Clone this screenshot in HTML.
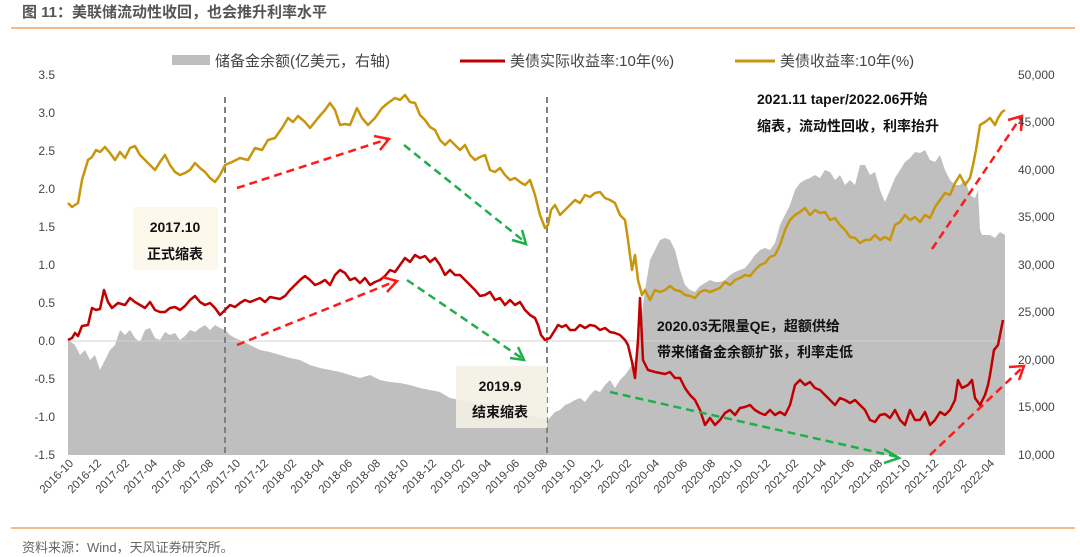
<!DOCTYPE html>
<html><head><meta charset="utf-8"><style>
body{margin:0;background:#fff;}
svg{display:block;font-family:"Liberation Sans","Noto Sans CJK SC",sans-serif;}
</style></head><body>
<svg width="1080" height="557" viewBox="0 0 1080 557" xmlns="http://www.w3.org/2000/svg">
<text x="22" y="17" font-size="15" font-weight="bold" fill="#555">图 11：美联储流动性收回，也会推升利率水平</text>
<line x1="11" y1="28" x2="1075" y2="28" stroke="#f4a460" stroke-width="1.5"/>
<line x1="11" y1="528" x2="1075" y2="528" stroke="#f4a460" stroke-width="1.5"/>
<text x="22" y="552" font-size="13" fill="#666">资料来源：Wind，天风证券研究所。</text>

<rect x="172" y="55" width="38" height="10" fill="#bfbfbf"/>
<text x="215" y="66" font-size="15" fill="#444">储备金余额(亿美元，右轴)</text>
<line x1="460" y1="61" x2="505" y2="61" stroke="#c00000" stroke-width="3"/>
<text x="510" y="66" font-size="15" fill="#444">美债实际收益率:10年(%)</text>
<line x1="735" y1="61" x2="775" y2="61" stroke="#c8960c" stroke-width="3"/>
<text x="780" y="66" font-size="15" fill="#444">美债收益率:10年(%)</text>

<polygon fill="#bfbfbf" points="68,455 68,340 75,345 80,355 85,350 90,360 95,355 100,370 105,360 110,350 115,345 120,330 125,335 130,330 135,338 140,342 145,330 150,328 155,338 160,340 165,332 170,335 175,333 180,340 185,336 190,330 195,332 200,328 205,325 210,330 215,325 220,328 225,330 230,335 235,338 240,340 250,345 260,350 270,352 280,355 290,358 300,360 310,365 320,368 330,370 340,372 350,375 360,378 370,375 380,380 390,382 400,383 410,385 420,388 430,390 440,392 450,398 460,400 470,402 480,405 490,402 500,405 510,408 520,412 530,415 540,418 548,420 555,412 560,410 565,405 570,403 575,400 580,398 585,402 590,395 595,390 600,392 605,385 610,380 615,388 620,380 625,375 630,368 635,360 640,330 645,290 650,260 655,250 660,240 665,238 670,240 675,250 680,270 685,285 690,290 695,292 700,286 705,283 710,280 715,282 720,282 725,280 730,275 735,272 740,270 745,268 750,262 755,255 760,250 765,248 770,250 775,243 780,225 785,215 790,205 795,190 800,183 805,180 810,178 815,175 820,178 825,170 830,172 835,180 840,175 845,185 850,180 855,185 860,165 865,165 870,175 875,172 880,190 885,202 890,190 895,178 900,170 905,162 910,158 915,152 920,153 925,150 930,160 935,162 940,155 945,170 950,180 955,185 960,185 965,180 970,195 975,198 978,190 980,230 982,235 990,235 995,238 1000,232 1005,235 1005,455"/>

<line x1="68" y1="341" x2="1005" y2="341" stroke="#d0d0d0" stroke-width="1"/>

<line x1="225" y1="97" x2="225" y2="455" stroke="#808080" stroke-width="2" stroke-dasharray="6,4"/>
<line x1="547" y1="97" x2="547" y2="455" stroke="#808080" stroke-width="2" stroke-dasharray="6,4"/>

<rect x="133" y="207" width="85" height="63" fill="#fdf8ec"/>
<text x="175" y="232" font-size="14" font-weight="bold" text-anchor="middle" fill="#111">2017.10</text>
<text x="175" y="259" font-size="14" font-weight="bold" text-anchor="middle" fill="#111">正式缩表</text>
<rect x="456" y="366" width="91" height="62" fill="#f3efe3" opacity="0.9"/>
<text x="500" y="391" font-size="14" font-weight="bold" text-anchor="middle" fill="#111">2019.9</text>
<text x="500" y="417" font-size="14" font-weight="bold" text-anchor="middle" fill="#111">结束缩表</text>

<polyline fill="none" stroke="#c8960c" stroke-width="2.5" stroke-linejoin="round" points="68,203 72,207 78,203 82,180 88,160 92,157 96,150 100,152 105,147 110,153 115,160 120,152 125,158 130,148 135,146 140,155 145,160 150,165 155,170 160,162 165,155 170,165 175,172 180,175 185,173 190,170 195,163 200,168 205,172 210,178 215,182 220,175 225,165 232,162 240,158 248,160 255,148 262,150 268,140 275,138 282,128 288,118 293,122 298,116 305,122 310,128 318,118 325,110 330,103 335,110 340,125 345,124 350,125 357,108 362,118 368,125 375,118 382,108 388,103 395,98 400,100 405,95 410,102 415,103 420,115 425,120 430,127 435,130 440,140 445,145 450,140 455,145 460,150 465,145 470,155 475,160 480,157 485,155 490,170 495,172 500,168 505,175 510,180 515,178 520,182 525,185 530,180 535,195 540,215 545,228 548,225 551,210 555,205 560,215 565,210 570,205 575,200 580,203 585,195 590,197 595,193 600,192 605,198 610,200 615,203 620,215 625,220 628,240 632,270 635,255 638,280 642,295 645,290 650,300 655,290 660,292 665,290 670,286 675,290 680,291 685,295 690,296 695,298 700,292 705,290 710,292 715,290 720,288 725,282 730,285 735,280 740,278 745,275 750,276 755,270 760,265 765,263 770,257 775,255 780,245 785,230 790,220 795,215 800,212 805,208 810,215 815,210 820,213 825,212 830,220 835,218 840,225 845,230 850,237 855,238 860,243 865,240 870,240 875,235 880,240 885,237 890,240 895,225 900,222 905,215 910,220 915,217 920,222 925,215 930,218 935,207 940,200 945,193 950,195 955,183 960,175 965,185 970,178 973,165 976,150 980,125 985,122 990,118 995,125 998,118 1002,112 1005,110"/>

<polyline fill="none" stroke="#c00000" stroke-width="2.5" stroke-linejoin="round" points="68,340 72,338 75,333 78,336 82,326 88,325 92,308 96,310 100,309 104,290 108,302 112,308 118,303 125,305 130,298 135,302 140,305 145,308 150,302 155,310 160,312 165,312 170,308 175,307 180,310 185,306 190,300 195,296 200,302 205,305 210,303 215,308 220,315 225,310 230,305 235,307 240,303 245,300 250,302 255,300 260,298 265,302 270,297 275,298 280,299 285,296 290,290 295,285 300,280 305,276 310,280 315,285 320,283 325,280 330,285 335,275 340,270 345,273 350,280 355,278 360,283 365,278 370,285 375,282 380,280 385,276 390,270 395,272 400,265 405,258 410,262 415,255 420,258 425,256 430,262 435,258 440,265 445,275 450,270 455,275 460,275 465,280 470,285 475,290 480,296 485,295 490,292 495,300 500,298 505,305 510,300 515,305 520,302 525,310 530,315 535,318 538,325 541,335 545,340 550,338 555,330 558,325 562,327 566,325 570,330 575,330 580,325 585,328 590,325 595,326 600,330 605,328 610,332 615,333 620,335 625,340 628,345 632,362 635,378 638,340 640,298 643,360 648,370 655,372 660,373 665,374 670,372 675,378 680,378 685,388 690,395 695,400 700,410 705,425 710,418 715,425 720,420 725,413 730,410 735,415 740,408 745,407 750,405 755,410 760,413 765,415 770,410 775,415 780,412 785,415 790,405 795,385 800,380 805,385 810,382 815,388 820,390 825,395 830,400 835,405 840,398 845,400 850,403 855,400 860,405 865,410 870,420 875,422 880,415 885,414 890,418 895,410 900,420 905,425 910,410 915,420 920,420 925,412 930,425 935,420 940,412 945,415 950,410 955,400 958,380 962,388 968,385 972,380 975,398 980,405 985,395 988,385 990,375 994,350 998,345 1000,335 1003,320"/>

<g fill="none" stroke-width="2.5" stroke-dasharray="8,5">
<line x1="237" y1="188" x2="388" y2="139" stroke="#ff1a1a"/>
<line x1="404" y1="145" x2="525" y2="242" stroke="#1db04a"/>
<line x1="237" y1="345" x2="396" y2="281" stroke="#ff1a1a"/>
<line x1="407" y1="280" x2="523" y2="359" stroke="#1db04a"/>
<line x1="610" y1="392" x2="898" y2="457" stroke="#1db04a"/>
<line x1="932" y1="249" x2="1021" y2="117" stroke="#ff1a1a"/>
<line x1="930" y1="455" x2="1023" y2="367" stroke="#ff1a1a"/>
</g>
<g fill="none" stroke-width="2.5">
<polyline points="374,136 389,139 380,150" stroke="#ff1a1a"/>
<polyline points="512,240 526,244 522,230" stroke="#1db04a"/>
<polyline points="382,277 397,281 387,292" stroke="#ff1a1a"/>
<polyline points="510,358 524,360 518,347" stroke="#1db04a"/>
<polyline points="884,449 899,458 884,463" stroke="#1db04a"/>
<polyline points="1008,120 1022,116 1021,131" stroke="#ff1a1a"/>
<polyline points="1009,367 1024,366 1019,380" stroke="#ff1a1a"/>
</g>

<g font-size="14" font-weight="bold" fill="#111">
<text x="757" y="104">2021.11 taper/2022.06开始</text>
<text x="757" y="131">缩表，流动性回收，利率抬升</text>
<text x="657" y="331">2020.03无限量QE，超额供给</text>
<text x="657" y="357">带来储备金余额扩张，利率走低</text>
</g>

<g font-size="12" fill="#444" text-anchor="end">
<text x="55" y="79">3.5</text><text x="55" y="117">3.0</text><text x="55" y="155">2.5</text>
<text x="55" y="193">2.0</text><text x="55" y="231">1.5</text><text x="55" y="269">1.0</text>
<text x="55" y="307">0.5</text><text x="55" y="345">0.0</text><text x="55" y="383">-0.5</text>
<text x="55" y="421">-1.0</text><text x="55" y="459">-1.5</text>
</g>
<g font-size="12" fill="#444">
<text x="1018" y="79">50,000</text><text x="1018" y="126">45,000</text><text x="1018" y="174">40,000</text>
<text x="1018" y="221">35,000</text><text x="1018" y="269">30,000</text><text x="1018" y="316">25,000</text>
<text x="1018" y="364">20,000</text><text x="1018" y="411">15,000</text><text x="1018" y="459">10,000</text>
</g>
<g font-size="11.5" fill="#444" text-anchor="end">
<text transform="translate(74,464) rotate(-45)">2016-10</text>
<text transform="translate(102,464) rotate(-45)">2016-12</text>
<text transform="translate(130,464) rotate(-45)">2017-02</text>
<text transform="translate(158,464) rotate(-45)">2017-04</text>
<text transform="translate(186,464) rotate(-45)">2017-06</text>
<text transform="translate(214,464) rotate(-45)">2017-08</text>
<text transform="translate(241,464) rotate(-45)">2017-10</text>
<text transform="translate(269,464) rotate(-45)">2017-12</text>
<text transform="translate(297,464) rotate(-45)">2018-02</text>
<text transform="translate(325,464) rotate(-45)">2018-04</text>
<text transform="translate(353,464) rotate(-45)">2018-06</text>
<text transform="translate(381,464) rotate(-45)">2018-08</text>
<text transform="translate(409,464) rotate(-45)">2018-10</text>
<text transform="translate(437,464) rotate(-45)">2018-12</text>
<text transform="translate(465,464) rotate(-45)">2019-02</text>
<text transform="translate(492,464) rotate(-45)">2019-04</text>
<text transform="translate(520,464) rotate(-45)">2019-06</text>
<text transform="translate(548,464) rotate(-45)">2019-08</text>
<text transform="translate(576,464) rotate(-45)">2019-10</text>
<text transform="translate(604,464) rotate(-45)">2019-12</text>
<text transform="translate(632,464) rotate(-45)">2020-02</text>
<text transform="translate(660,464) rotate(-45)">2020-04</text>
<text transform="translate(688,464) rotate(-45)">2020-06</text>
<text transform="translate(716,464) rotate(-45)">2020-08</text>
<text transform="translate(743,464) rotate(-45)">2020-10</text>
<text transform="translate(771,464) rotate(-45)">2020-12</text>
<text transform="translate(799,464) rotate(-45)">2021-02</text>
<text transform="translate(827,464) rotate(-45)">2021-04</text>
<text transform="translate(855,464) rotate(-45)">2021-06</text>
<text transform="translate(883,464) rotate(-45)">2021-08</text>
<text transform="translate(911,464) rotate(-45)">2021-10</text>
<text transform="translate(939,464) rotate(-45)">2021-12</text>
<text transform="translate(967,464) rotate(-45)">2022-02</text>
<text transform="translate(995,464) rotate(-45)">2022-04</text>
</g>
</svg>
</body></html>
